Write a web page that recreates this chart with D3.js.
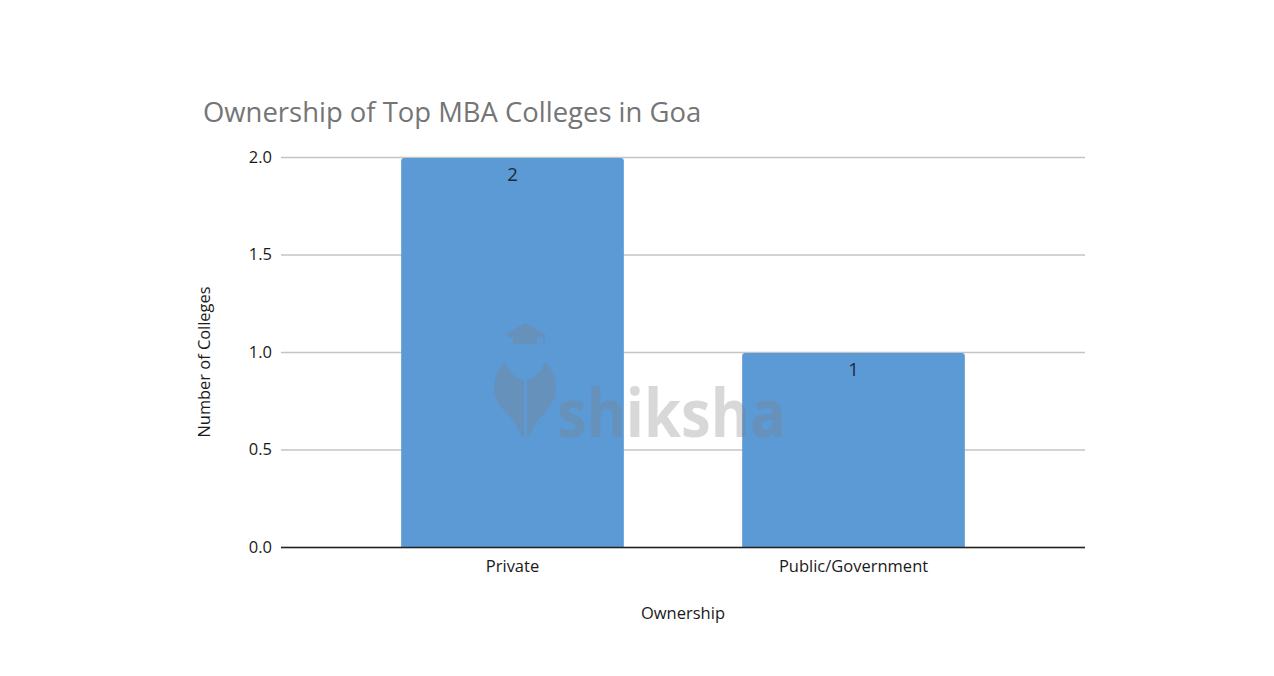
<!DOCTYPE html>
<html>
<head>
<meta charset="utf-8">
<script src="https://cdn.jsdelivr.net/npm/d3@7"></script>
<style>
  html, body { margin: 0; padding: 0; background: #fff; }
  svg { display: block; }
  text { font-family: "Open Sans", "Noto Sans", sans-serif; }
</style>
</head>
<body>
<div id="chart"></div>
<script>
var categories = ["Private", "Public/Government"];
var colleges = [2, 1];
var yTicks = [0, 0.5, 1, 1.5, 2];
var titleText = "Ownership of Top MBA Colleges in Goa";
var xTitle = "Ownership";
var yTitle = "Number of Colleges";

var width = 1274, height = 676;
var plot = { left: 281, right: 1085, top: 157, bottom: 547 };

var svg = d3.select("#chart").append("svg")
  .attr("width", width)
  .attr("height", height);

var x = d3.scaleBand()
  .domain(categories)
  .range([342, 1024])
  .paddingInner(0.347)
  .paddingOuter(0.1735);

var y = d3.scaleLinear()
  .domain([0, 2])
  .range([plot.bottom, plot.top]);

// title
svg.append("text")
  .attr("x", 203)
  .attr("y", 122)
  .attr("font-size", 27.45)
  .attr("fill", "#757575")
  .text(titleText);

// y axis with gridlines
var yAxis = svg.append("g")
  .attr("transform", "translate(" + plot.left + ",0)")
  .call(d3.axisLeft(y).tickValues(yTicks).tickFormat(d3.format(".1f")).tickSize(0).tickPadding(9));
yAxis.select(".domain").remove();
yAxis.selectAll("text")
  .attr("font-size", 16.5)
  .attr("font-family", null)
  .attr("fill", "#1a1a1a");
yAxis.selectAll(".tick line")
  .attr("x2", plot.right - plot.left)
  .attr("stroke", "#c4c4c4")
  .attr("stroke-width", 1.5);

// bars
svg.selectAll("path.bar")
  .data(categories)
  .enter()
  .append("path")
  .attr("class", "bar")
  .attr("fill", "#5b9ad5")
  .attr("d", function (d, i) {
    var bx = x(d), bw = x.bandwidth(), top = y(colleges[i]) + 1, r = 3;
    return "M" + bx + "," + plot.bottom + "V" + (top + r) +
      "Q" + bx + "," + top + " " + (bx + r) + "," + top +
      "H" + (bx + bw - r) +
      "Q" + (bx + bw) + "," + top + " " + (bx + bw) + "," + (top + r) +
      "V" + plot.bottom + "Z";
  });

// baseline sits on top of the bars
svg.append("line")
  .attr("x1", plot.left)
  .attr("x2", plot.right)
  .attr("y1", plot.bottom + 0.5)
  .attr("y2", plot.bottom + 0.5)
  .attr("stroke", "#222")
  .attr("stroke-width", 1.3);

// value labels
svg.selectAll("text.value")
  .data(categories)
  .enter()
  .append("text")
  .attr("class", "value")
  .attr("x", function (d) { return x(d) + x.bandwidth() / 2; })
  .attr("y", function (d, i) { return y(colleges[i]) + 23.5; })
  .attr("text-anchor", "middle")
  .attr("font-size", 18.5)
  .attr("fill", "#1c2b3a")
  .text(function (d, i) { return colleges[i]; });

// x axis labels
var xAxis = svg.append("g")
  .attr("transform", "translate(0," + plot.bottom + ")")
  .call(d3.axisBottom(x).tickSize(0).tickPadding(13));
xAxis.select(".domain").remove();
xAxis.selectAll("text")
  .attr("font-size", 16.5)
  .attr("font-family", null)
  .attr("fill", "#1a1a1a");

// axis titles
svg.append("text")
  .attr("x", 683)
  .attr("y", 619)
  .attr("text-anchor", "middle")
  .attr("font-size", 16.5)
  .attr("fill", "#1a1a1a")
  .text(xTitle);

svg.append("text")
  .attr("transform", "translate(210,362) rotate(-90)")
  .attr("text-anchor", "middle")
  .attr("font-size", 16.4)
  .attr("fill", "#1a1a1a")
  .text(yTitle);

// watermark
var mark = svg.append("g").attr("fill", "#7f7f7f").attr("opacity", 0.3);
mark.append("path")
  .attr("d", "M525,323 L546,335 L525,343 L505,335 Z");
mark.append("path")
  .attr("d", "M513,339 L537,339 L537,344 L513,344 Z M543,335 L545,335 L545,344 L543,344 Z");
mark.append("path")
  .attr("d", "M505,362 C510,373 516,379 524,380 L524,437 C521,437 519,430 515,423 C507,412 494,404 494,388 C494,377 499,368 505,362 Z");
mark.append("path")
  .attr("d", "M545,362 C540,373 534,379 527,380 L527,437 C530,437 532,430 536,423 C544,412 556,404 556,388 C556,377 551,368 545,362 Z");
mark.append("text")
  .attr("x", 557)
  .attr("y", 437)
  .attr("font-family", "Lato, sans-serif")
  .attr("font-weight", 700)
  .attr("font-size", 66)
  .attr("textLength", 229)
  .attr("lengthAdjust", "spacingAndGlyphs")
  .text("shiksha");
</script>
</body>
</html>
